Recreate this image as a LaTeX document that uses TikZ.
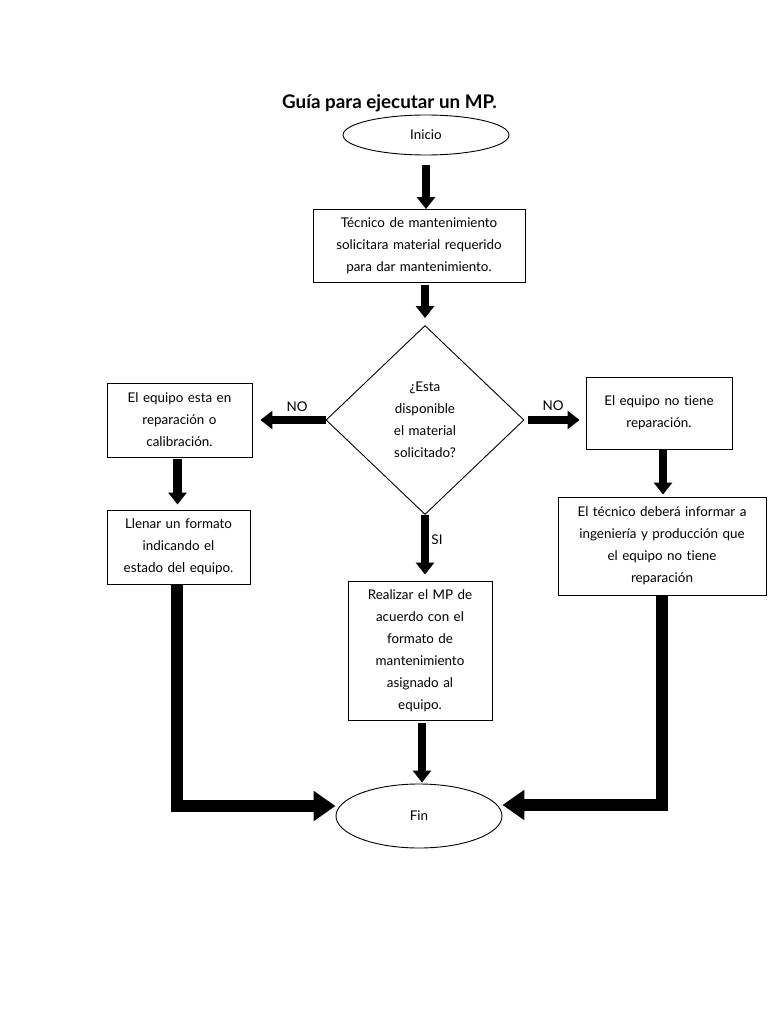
\documentclass[tikz,border=0pt]{standalone}
\usepackage{fontspec}
\setmainfont[Ligatures=NoCommon]{Lato}
\usetikzlibrary{shapes.geometric,arrows.meta}
\begin{document}
\begin{tikzpicture}[x=1pt,y=-1pt,
  txt/.style={font=\fontsize{13.4}{22}\selectfont},
  box/.style={draw,line width=0.9pt,txt,align=center,inner sep=0pt},
  oval/.style={draw,ellipse,line width=0.9pt,txt,inner sep=0pt},
  arr/.style={line width=8.5pt,-{Triangle[width=18pt,length=12pt]}},
  bigarr/.style={line width=12pt,line join=miter,-{Triangle[width=29pt,length=22pt]}},
  lbl/.style={txt,inner sep=0pt}
]
\useasboundingbox (0,0) rectangle (768,1024);
\node[font=\fontsize{18.8}{20}\selectfont\bfseries] (title) at (389.5,103) {Guía para ejecutar un MP.};
\node[oval,minimum width=166pt,minimum height=40pt] (inicio) at (426,135) {Inicio};
\node[box,minimum width=212pt,minimum height=73pt,text width=205pt] (b1) at (419,246) {Técnico de mantenimiento\\solicitara material requerido\\para dar mantenimiento.};
\node[draw,diamond,line width=0.9pt,txt,align=center,inner sep=0pt,minimum width=198pt,minimum height=189pt,text width=80pt] (d) at (425,420) {¿Esta\\disponible\\el material\\solicitado?};
\node[box,minimum width=145pt,minimum height=74pt,text width=140pt] (l1) at (179.5,420) {El equipo esta en\\reparación o\\calibración.};
\node[box,minimum width=143pt,minimum height=74pt,text width=140pt] (l2) at (178.5,547) {Llenar un formato\\indicando el\\estado del equipo.};
\node[box,minimum width=146pt,minimum height=72pt,text width=140pt] (r1) at (659,413) {El equipo no tiene\\reparación.};
\node[box,minimum width=208pt,minimum height=98pt,text width=205pt] (r2) at (662,546) {El técnico deberá informar a\\ingeniería y producción que\\el equipo no tiene\\reparación};
\node[box,minimum width=144pt,minimum height=139pt,text width=140pt] (m) at (420,650.5) {Realizar el MP de\\acuerdo con el\\formato de\\mantenimiento\\asignado al\\equipo.};
\node[oval,minimum width=166pt,minimum height=64pt] (fin) at (419,816) {Fin};
% arrows
\draw[arr,shorten <=10pt] (inicio.south) -- (inicio.south |- b1.north);
\draw[arr,shorten <=2pt,shorten >=7pt] (d.north |- b1.south) -- (d.north);
\draw[arr,shorten >=8pt] (d.west) -- (d.west -| l1.east);
\draw[arr,shorten <=4pt,shorten >=6pt] (d.east) -- (d.east -| r1.west);
\draw[arr,shorten <=2pt,shorten >=5pt] ([xshift=-2pt]l1.south) -- ([xshift=-2pt]l1.south |- l2.north);
\draw[arr,shorten <=1pt,shorten >=2pt] ([xshift=4pt]r1.south) -- ([xshift=4pt]r1.south |- r2.north);
\draw[arr,shorten >=6pt] (d.south) -- (d.south |- m.north);
\draw[arr,shorten <=3pt,shorten >=1pt] ([xshift=2pt]m.south) -- ([xshift=2pt]m.south |- fin.north);
\draw[bigarr] ([xshift=-1.5pt]l2.south) |- ([yshift=10pt]fin.west);
\draw[bigarr] (r2.south) |- ([yshift=11pt]fin.east);
% labels
\node[lbl] (no1) at (297,407) {NO};
\node[lbl] (no2) at (553,406) {NO};
\node[lbl] (si) at (437,540) {SI};
\end{tikzpicture}
\end{document}
